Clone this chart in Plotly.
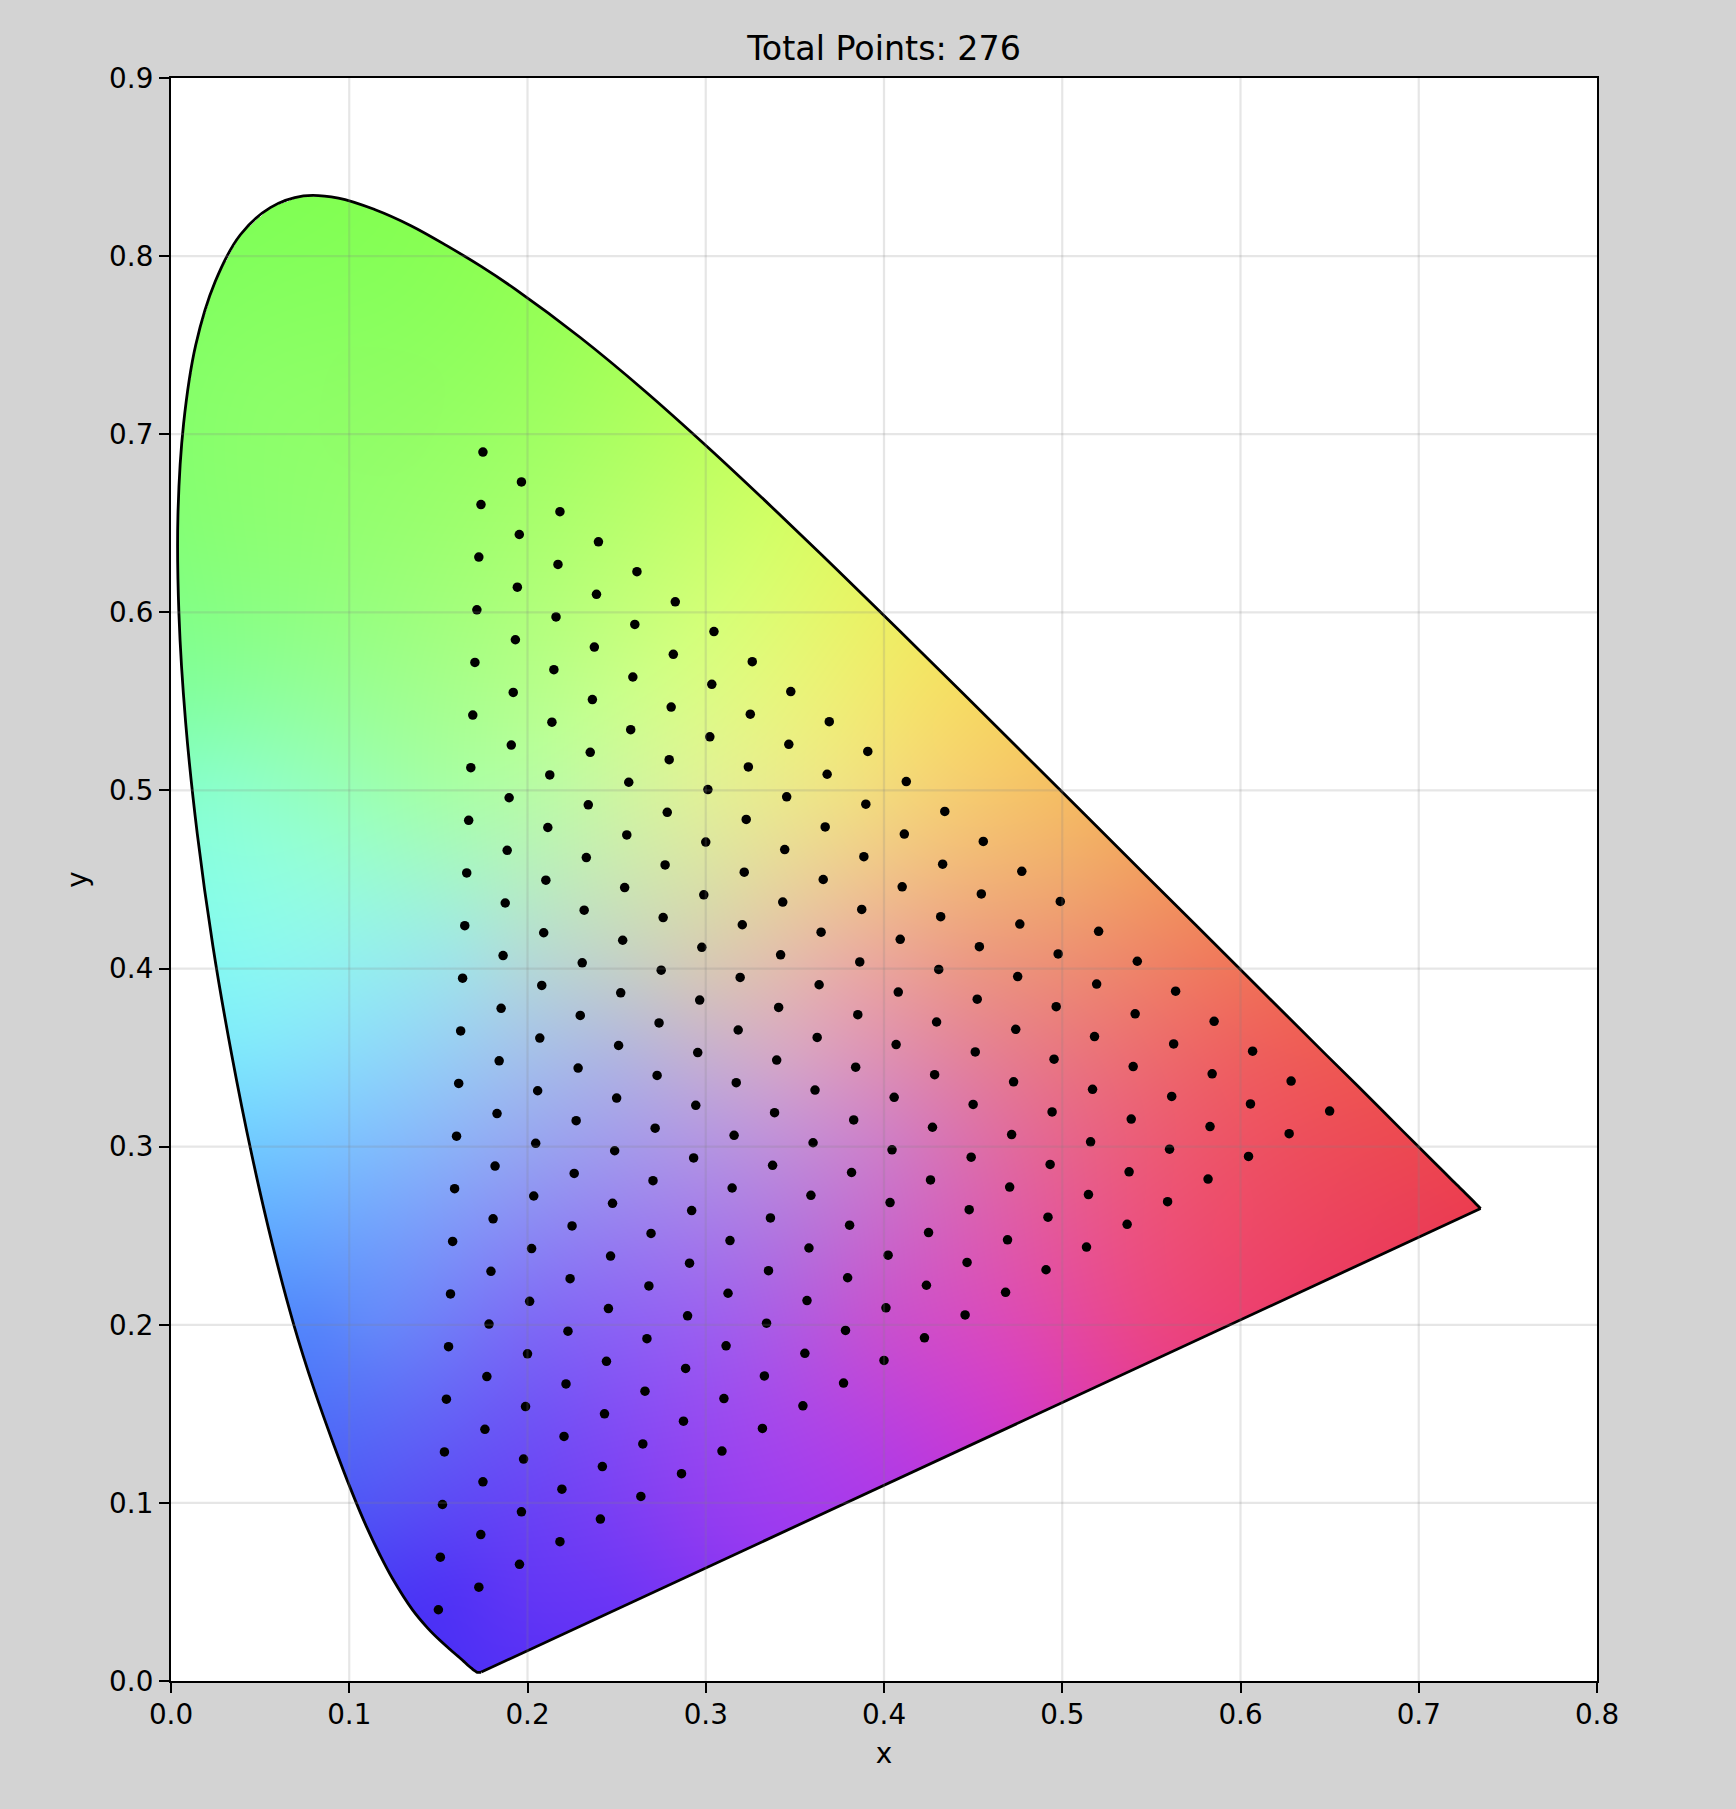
import base64
import struct
import zlib

import numpy as np
import plotly.graph_objects as go

TITLE = "Total Points: 276"
X_TICKS = [0.0, 0.1, 0.2, 0.3, 0.4, 0.5, 0.6, 0.7, 0.8]
Y_TICKS = [0.0, 0.1, 0.2, 0.3, 0.4, 0.5, 0.6, 0.7, 0.8, 0.9]

# Spectral locus, 380 nm to 700 nm
LOCUS_X = [.1741,.1740,.1738,.1736,.1733,.1730,.1726,.1721,.1714,.1703,.1689,.1669,.1644,.1611,.1566,.1510,.1440,.1355,.1241,.1173,.1096,.1010,.0913,.0803,.0687,.0570,.0454,.0340,.0235,.01475,.0082,.00447,.0039,.00707,.0139,.0248,.0389,.0557,.0743,.0939,.1142,.1346,.1547,.1740,.1929,.2296,.2658,.3016,.3373,.3731,.4087,.4441,.4788,.5125,.5448,.5752,.6029,.6270,.6482,.6658,.6801,.6915,.7006,.7079,.7140,.7190,.7230,.7260,.7283,.7300,.7311,.7320,.7327,.7334,.7340,.7344,.7346,.7347]
LOCUS_Y = [.0050,.0050,.0049,.0049,.0048,.0048,.0048,.0048,.0051,.0058,.0069,.0086,.0109,.0138,.0177,.0227,.0297,.0399,.0578,.0706,.0868,.1073,.1327,.1637,.2007,.2447,.2950,.3519,.4127,.4756,.5384,.5985,.6548,.7059,.7502,.7857,.8120,.8272,.8338,.8326,.8262,.8171,.8059,.7942,.7816,.7543,.7243,.6923,.6589,.6245,.5896,.5547,.5202,.4866,.4544,.4242,.3965,.3725,.3514,.3340,.3197,.3083,.2993,.2920,.2859,.2809,.2770,.2740,.2717,.2700,.2689,.2680,.2673,.2666,.2660,.2656,.2654,.2653]

POINT_X = [
 .1500,.1511,.1523,.1534,.1545,.1557,.1568,.1580,.1591,.1602,.1614,.1625,.1636,.1648,.1659,.1670,.1682,.1693,.1705,.1716,.1727,.1739,.1750,
 .1727,.1738,.1750,.1761,.1772,.1784,.1795,.1807,.1818,.1829,.1841,.1852,.1863,.1875,.1886,.1897,.1909,.1920,.1932,.1943,.1954,.1966,
 .1955,.1966,.1978,.1989,.2000,.2012,.2023,.2035,.2046,.2057,.2069,.2080,.2091,.2103,.2114,.2125,.2137,.2148,.2160,.2171,.2182,
 .2182,.2193,.2205,.2216,.2227,.2239,.2250,.2262,.2273,.2284,.2296,.2307,.2318,.2330,.2341,.2352,.2364,.2375,.2387,.2398,
 .2409,.2420,.2432,.2443,.2454,.2466,.2477,.2489,.2500,.2511,.2523,.2534,.2545,.2557,.2568,.2579,.2591,.2602,.2614,
 .2636,.2647,.2659,.2670,.2681,.2693,.2704,.2716,.2727,.2738,.2750,.2761,.2772,.2784,.2795,.2806,.2818,.2829,
 .2864,.2875,.2887,.2898,.2909,.2921,.2932,.2944,.2955,.2966,.2978,.2989,.3000,.3012,.3023,.3034,.3046,
 .3091,.3102,.3114,.3125,.3136,.3148,.3159,.3171,.3182,.3193,.3205,.3216,.3227,.3239,.3250,.3261,
 .3318,.3329,.3341,.3352,.3363,.3375,.3386,.3398,.3409,.3420,.3432,.3443,.3454,.3466,.3477,
 .3545,.3556,.3568,.3579,.3590,.3602,.3613,.3625,.3636,.3647,.3659,.3670,.3681,.3693,
 .3773,.3784,.3796,.3807,.3818,.3830,.3841,.3853,.3864,.3875,.3887,.3898,.3909,
 .4000,.4011,.4023,.4034,.4045,.4057,.4068,.4080,.4091,.4102,.4114,.4125,
 .4227,.4238,.4250,.4261,.4272,.4284,.4295,.4307,.4318,.4329,.4341,
 .4455,.4466,.4478,.4489,.4500,.4512,.4523,.4535,.4546,.4557,
 .4682,.4693,.4705,.4716,.4727,.4739,.4750,.4762,.4773,
 .4909,.4920,.4932,.4943,.4954,.4966,.4977,.4989,
 .5136,.5147,.5159,.5170,.5181,.5193,.5204,
 .5364,.5375,.5387,.5398,.5409,.5421,
 .5591,.5602,.5614,.5625,.5636,
 .5818,.5829,.5841,.5852,
 .6045,.6056,.6068,
 .6273,.6284,
 .6500,
]
POINT_Y = [
 .0400,.0695,.0991,.1286,.1582,.1877,.2173,.2468,.2764,.3059,.3355,.3650,.3946,.4241,.4537,.4832,.5128,.5423,.5719,.6014,.6310,.6605,.6900,
 .0527,.0822,.1118,.1413,.1709,.2004,.2300,.2595,.2891,.3186,.3482,.3777,.4073,.4368,.4664,.4959,.5255,.5550,.5846,.6141,.6437,.6732,
 .0655,.0950,.1246,.1541,.1837,.2132,.2428,.2723,.3019,.3314,.3610,.3905,.4201,.4496,.4792,.5087,.5383,.5678,.5974,.6269,.6565,
 .0782,.1077,.1373,.1668,.1964,.2259,.2555,.2850,.3146,.3441,.3737,.4032,.4328,.4623,.4919,.5214,.5510,.5805,.6101,.6396,
 .0909,.1204,.1500,.1795,.2091,.2386,.2682,.2977,.3273,.3568,.3864,.4159,.4455,.4750,.5046,.5341,.5637,.5932,.6228,
 .1036,.1331,.1627,.1922,.2218,.2513,.2809,.3104,.3400,.3695,.3991,.4286,.4582,.4877,.5173,.5468,.5764,.6059,
 .1164,.1459,.1755,.2050,.2346,.2641,.2937,.3232,.3528,.3823,.4119,.4414,.4710,.5005,.5301,.5596,.5892,
 .1291,.1586,.1882,.2177,.2473,.2768,.3064,.3359,.3655,.3950,.4246,.4541,.4837,.5132,.5428,.5723,
 .1418,.1713,.2009,.2304,.2600,.2895,.3191,.3486,.3782,.4077,.4373,.4668,.4964,.5259,.5555,
 .1545,.1840,.2136,.2431,.2727,.3022,.3318,.3613,.3909,.4204,.4500,.4795,.5091,.5386,
 .1673,.1968,.2264,.2559,.2855,.3150,.3446,.3741,.4037,.4332,.4628,.4923,.5219,
 .1800,.2095,.2391,.2686,.2982,.3277,.3573,.3868,.4164,.4459,.4755,.5050,
 .1927,.2222,.2518,.2813,.3109,.3404,.3700,.3995,.4291,.4586,.4882,
 .2055,.2350,.2646,.2941,.3237,.3532,.3828,.4123,.4419,.4714,
 .2182,.2477,.2773,.3068,.3364,.3659,.3955,.4250,.4546,
 .2309,.2604,.2900,.3195,.3491,.3786,.4082,.4377,
 .2436,.2731,.3027,.3322,.3618,.3913,.4209,
 .2564,.2859,.3155,.3450,.3746,.4041,
 .2691,.2986,.3282,.3577,.3873,
 .2818,.3113,.3409,.3704,
 .2945,.3240,.3536,
 .3073,.3368,
 .3200,
]

# Colour stops of the filled horseshoe
STOP_X = [.17,.20,.30,.40,.47,.55,.70,.60,.50,.42,.33,.20,.08,.02,.03,.05,.08,.11,.12,.33,.30,.25,.20,.20,.30,.40,.45,.15,.15,.05,.12,.01,.14,.25,.085,.20,.20,.40,.25,.35,.16,.35,.25,.22,.30,.38,.30,.38,.16,.04,.34]
STOP_Y = [.01,.05,.09,.12,.17,.20,.27,.35,.45,.55,.64,.75,.82,.65,.50,.42,.30,.20,.10,.33,.40,.50,.40,.30,.20,.30,.40,.50,.65,.72,.78,.55,.04,.04,.20,.15,.20,.20,.35,.35,.41,.25,.25,.50,.50,.50,.44,.39,.05,.36,.08]
STOP_R = [80,100,145,178,215,235,235,238,240,245,210,150,130,135,140,140,120,100,85,200,215,205,180,150,155,205,235,165,155,140,135,130,75,105,85,110,125,200,175,215,160,180,150,190,225,240,215,230,80,130,155]
STOP_G = [50,55,60,60,65,70,65,95,170,225,255,255,255,255,255,250,195,140,85,160,200,245,215,165,95,125,150,255,255,255,255,255,50,52,130,85,105,80,180,165,230,115,125,250,240,225,220,165,50,235,58]
STOP_B = [245,245,240,228,195,130,85,95,110,105,105,90,85,115,205,235,255,250,245,210,180,160,215,240,240,200,130,165,110,105,90,160,245,245,250,245,245,205,225,195,230,220,240,165,150,130,170,170,245,250,240]

PLOT_W, PLOT_H = 1426, 1603


def colour_field():
    sx = np.array(STOP_X)
    sy = np.array(STOP_Y)
    n = len(sx)

    def kernel(r2):
        return 0.5 * r2 * np.log(np.maximum(r2, 1e-12))

    k = kernel((sx[:, None] - sx[None, :]) ** 2 + (sy[:, None] - sy[None, :]) ** 2)
    k = k + np.eye(n) * 1e-3
    p = np.column_stack([np.ones(n), sx, sy])
    a = np.block([[k, p], [p.T, np.zeros((3, 3))]])
    rhs = np.zeros((n + 3, 3))
    rhs[:n, 0], rhs[:n, 1], rhs[:n, 2] = STOP_R, STOP_G, STOP_B
    w = np.linalg.solve(a, rhs)

    xs = (np.arange(PLOT_W) + 0.5) / PLOT_W * 0.8
    ys = 0.9 - (np.arange(PLOT_H) + 0.5) / PLOT_H * 0.9
    rgba = np.zeros((PLOT_H, PLOT_W, 4), dtype=np.uint8)
    px = np.array(LOCUS_X)
    py = np.array(LOCUS_Y)
    qx = np.roll(px, 1)
    qy = np.roll(py, 1)
    for row, yv in enumerate(ys):
        crossing = (py > yv) != (qy > yv)
        if not crossing.any():
            continue
        cx = np.sort(px[crossing] + (yv - py[crossing]) / (qy[crossing] - py[crossing]) * (qx[crossing] - px[crossing]))
        inside = np.searchsorted(cx, xs) % 2 == 1
        if not inside.any():
            continue
        xi = xs[inside]
        r2 = (xi[:, None] - sx) ** 2 + (yv - sy) ** 2
        vals = kernel(r2) @ w[:n] + w[n] + np.outer(xi, w[n + 1]) + yv * w[n + 2]
        rgba[row, inside, :3] = np.clip(vals, 0, 255).round().astype(np.uint8)
        rgba[row, inside, 3] = 255
    return rgba


def png_uri(rgba):
    def chunk(tag, data):
        return struct.pack(">I", len(data)) + tag + data + struct.pack(">I", zlib.crc32(tag + data) & 0xffffffff)

    h, w = rgba.shape[:2]
    raw = np.zeros((h, w * 4 + 1), dtype=np.uint8)
    raw[:, 1:] = rgba.reshape(h, -1)
    png = b"\x89PNG\r\n\x1a\n" + chunk(b"IHDR", struct.pack(">IIBBBBB", w, h, 8, 6, 0, 0, 0)) + chunk(b"IDAT", zlib.compress(raw.tobytes(), 6)) + chunk(b"IEND", b"")
    return "data:image/png;base64," + base64.b64encode(png).decode()


fig = go.Figure()
fig.add_trace(go.Scatter(x=POINT_X, y=POINT_Y, mode="markers", marker=dict(color="black", size=9.5), showlegend=False))
fig.add_trace(go.Scatter(x=LOCUS_X, y=LOCUS_Y, mode="lines", line=dict(color="black", width=2.8, shape="spline", smoothing=1.0), showlegend=False))
fig.add_trace(go.Scatter(x=[LOCUS_X[-1], LOCUS_X[0]], y=[LOCUS_Y[-1], LOCUS_Y[0]], mode="lines", line=dict(color="black", width=2.8), showlegend=False))

GRID = "rgba(128,128,128,0.2)"
shapes = []
for v in X_TICKS[1:-1]:
    shapes.append(dict(type="line", xref="x", yref="paper", x0=v, x1=v, y0=0, y1=1, layer="above", line=dict(color=GRID, width=2.2)))
for v in Y_TICKS[1:-1]:
    shapes.append(dict(type="line", xref="paper", yref="y", x0=0, x1=1, y0=v, y1=v, layer="above", line=dict(color=GRID, width=2.2)))

axis_common = dict(
    showgrid=False, zeroline=False, showline=True, mirror=True, linecolor="black", linewidth=2.2,
    ticks="outside", ticklen=10, tickwidth=2.2, tickcolor="black", tickformat=".1f",
    tickfont=dict(family="DejaVu Sans", size=27.8, color="black"),
)

fig.update_layout(
    width=1736, height=1809,
    margin=dict(l=171, r=139, t=78, b=128, autoexpand=False),
    paper_bgcolor="#d3d3d3", plot_bgcolor="white",
    font=dict(family="DejaVu Sans", color="black"),
    title=dict(text=TITLE, font=dict(family="DejaVu Sans", size=33.3, color="black"), x=0.5, xref="paper", xanchor="center", y=1 - 48 / 1809, yref="container", yanchor="middle"),
    xaxis=dict(range=[0, 0.8], tickvals=X_TICKS, ticklabelstandoff=-2, title=dict(text="x", font=dict(family="DejaVu Sans", size=27.8, color="black"), standoff=13), **axis_common),
    yaxis=dict(range=[0, 0.9], tickvals=Y_TICKS, title=dict(text="y", font=dict(family="DejaVu Sans", size=27.8, color="black"), standoff=13), **axis_common),
    shapes=shapes,
    images=[dict(source=png_uri(colour_field()), xref="x", yref="y", x=0, y=0.9, sizex=0.8, sizey=0.9, sizing="stretch", xanchor="left", yanchor="top", layer="below")],
)

fig.write_html("out.html", config=dict(displayModeBar=False), post_script="document.documentElement.style.margin='0';document.body.style.margin='0';document.body.style.overflow='hidden';")
